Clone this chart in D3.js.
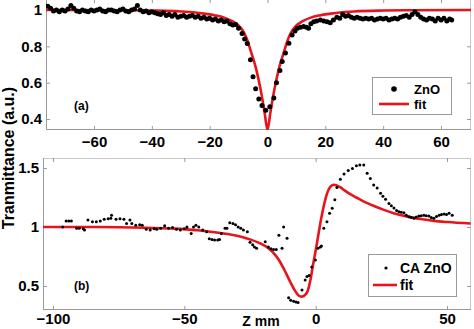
<!DOCTYPE html>
<html><head><meta charset="utf-8">
<script src="https://cdn.jsdelivr.net/npm/d3@7"></script>
<style>body{margin:0;background:#fff}svg{display:block}text{font-family:"Liberation Sans",Arial,sans-serif}</style>
</head><body><svg id="c" width="474" height="329"></svg>
<script>
// ---------- DATA ----------
const yLabel = "Tranmittance (a.u.)";
const xLabel = "Z mm";
const aXTicks = [-60,-40,-20,0,20,40,60];
const aYTicks = [0.4,0.6,0.8,1];
const bXTicks = [-100,-50,0,50];
const bYTicks = [0.5,1,1.5];
const aLegend = ["ZnO","fit"];
const bLegend = ["CA ZnO","fit"];
// panel (a): open aperture ZnO data [z, T]
const znoData = [[-76,1.02],[-75,1.01],[-74,0.995],[-73,1.0],[-72,0.99],[-71,1.0],[-70,0.995],[-69,1.005],[-68,1.025],[-67,1.01],[-66,0.995],[-65,0.99],[-64,1.0],[-63,0.995],[-62,0.99],[-61,1.0],[-60,0.995],[-59,1.0],[-58,1.005],[-57,0.995],[-56,0.99],[-55,1.0],[-54,1.0],[-53,0.995],[-52,0.99],[-51,1.0],[-50,1.005],[-49,0.995],[-48,0.99],[-47,1.0],[-46,1.005],[-45,1.025],[-44,1.0],[-43,0.99],[-42,0.995],[-41,0.985],[-40,0.99],[-39,0.985],[-38,0.98],[-37,0.975],[-36,0.985],[-35,0.97],[-34,0.975],[-33,0.965],[-32,0.975],[-31,0.96],[-30,0.965],[-29,0.97],[-28,0.96],[-27,0.965],[-26,0.97],[-25,0.96],[-24,0.965],[-23,0.955],[-22,0.96],[-21,0.95],[-20,0.955],[-19,0.945],[-18,0.95],[-17,0.94],[-16,0.945],[-15,0.935],[-14,0.94],[-13,0.925],[-12,0.918],[-11,0.92],[-10,0.9],[-8.8,0.87],[-7.9,0.84],[-7.0,0.815],[-5.9,0.726],[-5.0,0.633],[-4.1,0.567],[-3.0,0.51],[-1.9,0.474],[-0.6,0.448],[0.8,0.467],[2.2,0.516],[3.1,0.6],[4.3,0.667],[5.1,0.717],[6.2,0.763],[7.4,0.817],[8.5,0.863],[9.5,0.885],[10.3,0.9],[11.4,0.905],[12.5,0.909],[13.5,0.905],[14.2,0.9],[15,0.925],[16,0.936],[17,0.94],[18.3,0.945],[19.5,0.94],[20.6,0.936],[21.7,0.93],[22.8,0.945],[24,0.96],[25,0.955],[26,0.975],[27,0.965],[28,0.97],[29,0.96],[30,0.955],[31,0.96],[32,0.955],[33,0.95],[34,0.955],[35,0.95],[36,0.955],[37,0.945],[38,0.95],[39,0.955],[40,0.95],[41,0.955],[42,0.945],[43,0.95],[44,0.955],[45,0.95],[46,0.96],[47,0.965],[48,0.97],[49,0.96],[50,0.975],[51,0.99],[52,0.975],[53,0.96],[54,0.95],[55,0.945],[56,0.955],[57,0.95],[58,0.94],[59,0.955],[60,0.945],[61,0.955],[62,0.94],[63,0.95],[63.7,0.945]];
const znoFit = [[-77,1.0],[-50,0.999],[-40,0.997],[-30,0.992],[-25,0.986],[-22,0.98],[-18,0.97],[-15,0.958],[-12,0.937],[-10,0.915],[-8,0.872],[-7,0.835],[-6,0.785],[-5,0.735],[-4,0.68],[-3,0.61],[-2,0.53],[-1,0.435],[0,0.342],[1,0.435],[2,0.53],[3,0.61],[4,0.68],[5,0.735],[6,0.785],[7,0.835],[8,0.872],[10,0.915],[12,0.937],[15,0.958],[18,0.97],[22,0.98],[25,0.986],[30,0.992],[40,0.997],[50,0.999],[71,1.0]];
// panel (b): closed aperture ZnO data [z, T]
const caData = [[-96.3,1.0],[-95,1.05],[-94,1.05],[-93,1.05],[-91,0.99],[-90,0.99],[-88.5,0.985],[-88,0.975],[-86.7,1.06],[-85,1.045],[-83.5,1.045],[-82,1.05],[-80.5,1.065],[-79,1.07],[-78,1.075],[-77.7,1.1],[-76,1.065],[-74.5,1.07],[-73,1.065],[-72,1.03],[-70.7,1.06],[-70,1.03],[-68.5,1.015],[-67,1.02],[-66,1.015],[-64.5,0.98],[-63,0.975],[-61.5,0.985],[-60.5,0.98],[-59,0.99],[-57.5,1.01],[-56,0.99],[-54.5,0.995],[-53,0.98],[-51.5,0.975],[-50,0.985],[-49,1.0],[-47.4,0.945],[-46.5,1.0],[-45.6,1.015],[-44.5,1.0],[-43,0.975],[-41.5,0.96],[-40.5,0.9],[-39.5,0.895],[-38.5,0.89],[-37.3,0.89],[-36.6,0.895],[-35.9,0.945],[-34.5,0.99],[-33.8,0.99],[-32.7,1.035],[-31.5,1.03],[-30.5,1.02],[-29.5,1.0],[-28.5,0.99],[-27.5,0.975],[-26,0.96],[-25,0.87],[-24,0.85],[-23.3,0.83],[-22.5,0.82],[-19.2,0.875],[-18,0.83],[-17,0.815],[-16,0.81],[-15,0.81],[-14,0.93],[-12.8,0.82],[-12.2,1.0],[-10.9,0.905],[-10.3,0.4],[-9.5,0.38],[-8.4,0.37],[-7.5,0.365],[-6.7,0.36],[-5.2,0.466],[-4,0.55],[-3.3,0.58],[-2.5,0.59],[-1.5,0.66],[-0.1,0.72],[0.9,0.82],[1.8,0.83],[2.2,0.84],[3.1,0.99],[4.3,1.045],[5.3,1.116],[6.3,1.158],[7.3,1.23],[8.1,1.335],[9.4,1.405],[10.8,1.45],[12.4,1.478],[14,1.495],[15.5,1.52],[16.8,1.525],[18.3,1.525],[19.6,1.455],[20.8,1.41],[22.1,1.356],[23.4,1.33],[24.7,1.285],[25.6,1.26],[26.6,1.235],[27.9,1.2],[28.8,1.18],[29.8,1.16],[30.8,1.14],[31.7,1.13],[32.6,1.125],[33.6,1.12],[34.5,1.1],[35.5,1.087],[36.4,1.08],[37.4,1.074],[38.3,1.085],[39.3,1.093],[40.2,1.095],[41.2,1.1],[42.1,1.095],[43.1,1.093],[44,1.08],[45,1.074],[46,1.09],[47,1.1],[47.9,1.105],[48.9,1.11],[49.8,1.105],[50.8,1.116],[52,1.1]];
const caFit = [[-104,1.0],[-85,1.0],[-75,0.998],[-65,0.994],[-55,0.987],[-50,0.982],[-45,0.972],[-40,0.96],[-35,0.945],[-32,0.935],[-28,0.915],[-25,0.895],[-22,0.87],[-20,0.848],[-18,0.82],[-16,0.778],[-14,0.72],[-12,0.64],[-10,0.55],[-8,0.465],[-6.5,0.42],[-5.3,0.41],[-4,0.425],[-3,0.46],[-2,0.55],[-1,0.68],[0,0.8],[1,0.93],[2,1.06],[3,1.17],[4,1.26],[5,1.32],[6,1.35],[7,1.358],[8,1.352],[9.5,1.335],[11,1.31],[13,1.28],[15.5,1.25],[18,1.22],[22,1.18],[26,1.145],[30,1.115],[35,1.088],[40,1.068],[45,1.052],[50,1.042],[59,1.03]];

// ---------- DRAW ----------
const svg = d3.select("#c");
const RED = "#e8141b", AX = "#9a9a9a";
const tickFont = "bold 15px 'Liberation Sans', Arial, sans-serif";

function panel(cfg){
  const {id,left,right,top,bottom,x,y,xt,yt,pts,fit,r,label,labelPos,leg,padB} = cfg;
  const g = svg.append("g");
  g.append("clipPath").attr("id",id).append("rect")
    .attr("x",left).attr("y",top).attr("width",right-left).attr("height",bottom-top);
  g.append("rect").attr("x",left+0.5).attr("y",top+0.5).attr("width",right-left-1).attr("height",bottom-top-1)
    .attr("fill","none").attr("stroke","#c8c8c8").attr("stroke-width",1);
  const axB = d3.axisBottom(x).tickValues(xt).tickSize(-4).tickPadding(padB).tickFormat(d3.format("d"));
  const axT = d3.axisTop(x).tickValues(xt).tickSize(-4).tickFormat("");
  const axL = d3.axisLeft(y).tickValues(yt).tickSize(-4).tickPadding(4).tickFormat(d=>String(d));
  const axR = d3.axisRight(y).tickValues(yt).tickSize(-4).tickFormat("");
  const gb = g.append("g").attr("transform",`translate(0,${bottom})`).call(axB);
  const gt = g.append("g").attr("transform",`translate(0,${top})`).call(axT);
  const gl = g.append("g").attr("transform",`translate(${left},0)`).call(axL);
  const gr = g.append("g").attr("transform",`translate(${right},0)`).call(axR);
  [gb,gt,gl,gr].forEach(a=>{
    a.select(".domain").remove();
    a.selectAll("line").attr("stroke",AX);
    a.selectAll("text").attr("fill","#000").style("font",tickFont);
  });
  g.append("line").attr("x1",left).attr("x2",right).attr("y1",bottom-0.5).attr("y2",bottom-0.5).attr("stroke",AX);
  g.append("line").attr("x1",left+0.5).attr("x2",left+0.5).attr("y1",top).attr("y2",bottom).attr("stroke",AX);
  const plot = g.append("g").attr("clip-path",`url(#${id})`);
  plot.append("path").datum(fit)
    .attr("d",d3.line().x(d=>x(d[0])).y(d=>y(d[1])).curve(d3.curveMonotoneX))
    .attr("fill","none").attr("stroke",RED).attr("stroke-width",2.6);
  plot.selectAll("circle").data(pts).join("circle")
    .attr("cx",d=>x(d[0])).attr("cy",d=>y(d[1])).attr("r",r).attr("fill","#000");
  g.append("text").attr("x",labelPos[0]).attr("y",labelPos[1]).text(label)
    .style("font","bold 12px 'Liberation Sans', Arial, sans-serif");
  const lg = g.append("g");
  lg.append("rect").attr("x",leg.x+0.5).attr("y",leg.y+0.5).attr("width",leg.w).attr("height",leg.h)
    .attr("fill","#fff").attr("stroke","#9a9a9a");
  lg.append("circle").attr("cx",leg.dotX).attr("cy",leg.row1).attr("r",leg.dotR).attr("fill","#000");
  lg.append("line").attr("x1",leg.lx1).attr("x2",leg.lx2).attr("y1",leg.row2).attr("y2",leg.row2)
    .attr("stroke",RED).attr("stroke-width",2.6);
  lg.selectAll("text.l").data(leg.names).join("text").attr("class","l")
    .attr("x",leg.tx).attr("y",(d,i)=>i?leg.row2:leg.row1).attr("dy","0.36em").text(d=>d)
    .style("font",`bold ${leg.fs}px 'Liberation Sans', Arial, sans-serif`);
}

// panel (a)
const xa = d3.scaleLinear().domain([-60,60]).range([94,441]);
const ya = d3.scaleLinear().domain([0.4,1]).range([119,10]);
panel({id:"ca",left:46,right:471,top:-1,bottom:130,x:xa,y:ya,xt:aXTicks,yt:aYTicks,padB:6,
  pts:znoData,fit:znoFit,r:2.5,label:"(a)",labelPos:[74,110],
  leg:{x:372,y:77,w:79,h:37,dotX:394,dotR:2.8,row1:89,row2:104,lx1:379,lx2:409,tx:414,fs:13,names:aLegend}});

// panel (b)
const xb = d3.scaleLinear().domain([-100,50]).range([53,447]);
const yb = d3.scaleLinear().domain([0.5,1.5]).range([286,168]);
panel({id:"cb",left:43,right:471,top:158,bottom:310,x:xb,y:yb,xt:bXTicks,yt:bYTicks,padB:3,
  pts:caData,fit:caFit,r:1.5,label:"(b)",labelPos:[74,290],
  leg:{x:368,y:254,w:88,h:42,dotX:386,dotR:1.6,row1:268,row2:285,lx1:373,lx2:397,tx:400,fs:14,names:bLegend}});

// axis titles
svg.append("text").attr("transform","translate(14,158) rotate(-90)").attr("text-anchor","middle")
  .text(yLabel).style("font","bold 16px 'Liberation Sans', Arial, sans-serif");
svg.append("text").attr("x",261).attr("y",326).attr("text-anchor","middle")
  .text(xLabel).style("font","bold 14px 'Liberation Sans', Arial, sans-serif");
</script></body></html>
